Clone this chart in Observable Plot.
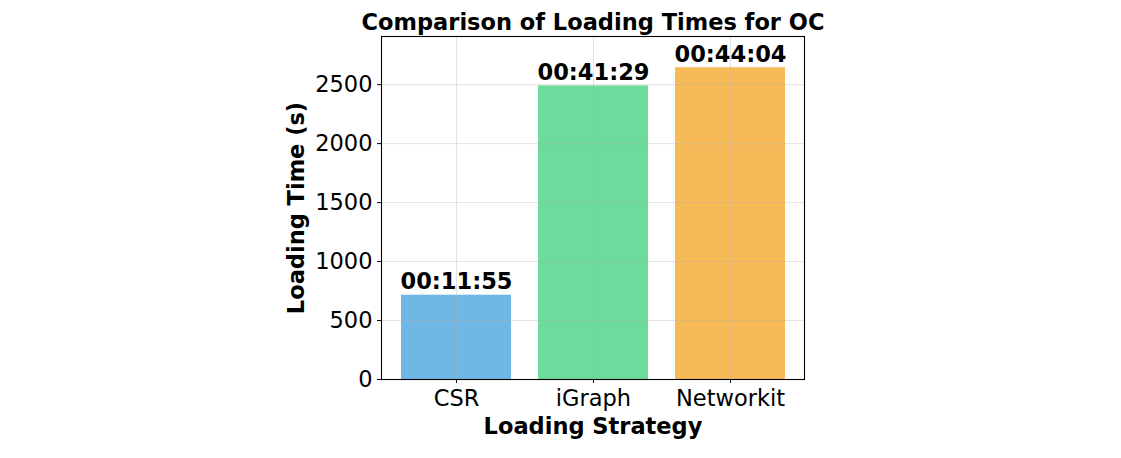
<!DOCTYPE html>
<html>
<head>
<meta charset="utf-8">
<script src="https://cdn.jsdelivr.net/npm/d3@7"></script>
<script src="https://cdn.jsdelivr.net/npm/@observablehq/plot@0.6"></script>
<style>
  html, body { margin: 0; padding: 0; background: #fff; }
</style>
</head>
<body>
<div id="chart"></div>
<script>
const strategies = ["CSR", "iGraph", "Networkit"];
const loadingSeconds = [715, 2489, 2644];
const timeLabels = ["00:11:55", "00:41:29", "00:44:04"];
const barColors = ["#3498db", "#2ecc71", "#f39c12"];
const yTicks = [0, 500, 1000, 1500, 2000, 2500];
const titleText = "Comparison of Loading Times for OC";
const xLabel = "Loading Strategy";
const yLabel = "Loading Time (s)";

const data = strategies.map((s, i) => ({strategy: s, seconds: loadingSeconds[i], label: timeLabels[i], color: barColors[i]}));
const yMax = Math.max(...loadingSeconds) * 1.1;

const font = "DejaVu Sans";
const fs = 22.5;
const chart = Plot.plot({
  width: 1121,
  height: 458,
  marginLeft: 381,
  marginRight: 317,
  marginTop: 36,
  marginBottom: 79,
  style: {fontFamily: font, fontSize: fs + "px", color: "#000", background: "#fff"},
  x: {type: "band", domain: strategies, paddingInner: 0.2, paddingOuter: 0.14, axis: null},
  y: {domain: [0, yMax], axis: null},
  color: {type: "identity"},
  marks: [
    Plot.barY(data, {x: "strategy", y: "seconds", fill: "color", fillOpacity: 0.7}),
    Plot.gridY(yTicks, {stroke: "#b0b0b0", strokeOpacity: 0.35, strokeWidth: 1}),
    Plot.gridX(strategies, {stroke: "#b0b0b0", strokeOpacity: 0.35, strokeWidth: 1}),
    Plot.axisY({ticks: yTicks, tickSize: 4, tickPadding: 5, tickFormat: d => String(d), fontSize: fs, label: null, stroke: "#000"}),
    Plot.axisX({tickSize: 4, tickPadding: 7, fontSize: fs, label: null, stroke: "#000"}),
    Plot.text(data, {x: "strategy", y: "seconds", text: "label", dy: -6, lineAnchor: "bottom", fontWeight: "bold", fontSize: fs, fill: "#000"}),
    Plot.text([titleText], {frameAnchor: "top", textAnchor: "middle", dy: -7, lineAnchor: "bottom", fontWeight: "bold", fontSize: fs, fill: "#000"}),
    Plot.text([xLabel], {frameAnchor: "bottom", textAnchor: "middle", dy: 54, lineAnchor: "bottom", fontWeight: "bold", fontSize: fs, fill: "#000"}),
    Plot.text([yLabel], {frameAnchor: "left", textAnchor: "middle", dx: -85, rotate: -90, lineAnchor: "middle", fontWeight: "bold", fontSize: fs, fill: "#000"}),
    Plot.frame({stroke: "#000", strokeWidth: 1.1})
  ]
});
document.getElementById("chart").appendChild(chart);
</script>
</body>
</html>
